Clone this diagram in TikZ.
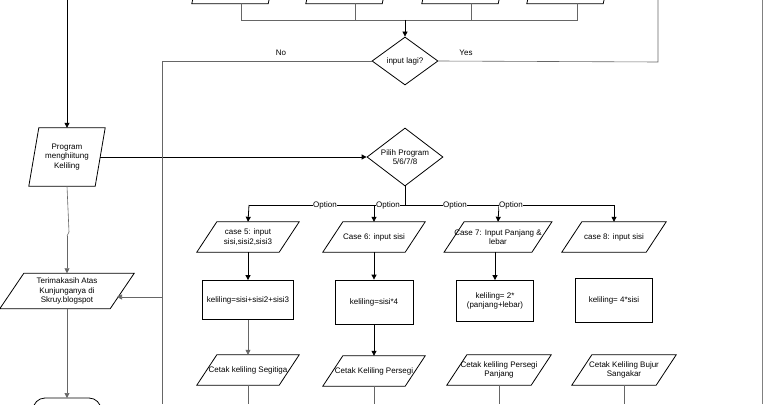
\documentclass[tikz,border=0pt]{standalone}
\usepackage{fontspec}
\setmainfont{Liberation Sans}
\usetikzlibrary{shapes.geometric,arrows.meta}
\newcommand{\mypara}[7]{% name, x, y, mid width, height, half skew, text
  \node[minimum width=#4pt, minimum height=#5pt, inner sep=0pt] (#1) at (#2,#3) {#7};
  \draw[thick] ([xshift=-#6pt]#1.south west) -- ([xshift=-#6pt]#1.south east)
     -- ([xshift=#6pt]#1.north east) -- ([xshift=#6pt]#1.north west) -- cycle;}
\begin{document}
\begin{tikzpicture}[x=1pt,y=-1pt,
  every node/.style={font=\fontsize{8}{9.5}\selectfont, align=center},
  proc/.style={draw, thick, minimum width=78pt, minimum height=42pt, inner sep=1pt},
  dec/.style={draw, thick, diamond, aspect=1.35, inner sep=1pt},
  blk/.style={thick, -{Triangle[length=5pt,width=5pt]}},
  gry/.style={draw=gray!80!black, line width=0.6pt},
  gar/.style={gry, -{Triangle[length=5pt,width=5pt]}},
  lab/.style={fill=white, inner sep=0.5pt}]
\useasboundingbox (0,0) rectangle (770,404);
% top cut-off parallelograms (only bottoms visible)
\mypara{t1}{233}{-10}{76}{27}{3}{}
\mypara{t2}{347}{-10}{76}{27}{3}{}
\mypara{t3}{463}{-10}{76}{27}{3}{}
\mypara{t4}{568}{-10}{76}{27}{3}{}
\coordinate (j1) at (241,20); \coordinate (j2) at (355,20);
\coordinate (j3) at (471,20); \coordinate (j4) at (577,20);
\coordinate (u1) at (241,3.5); \coordinate (u2) at (355,3.5);
\coordinate (u3) at (471,3.5); \coordinate (u4) at (577,3.5);
\draw[gry] (u1) -- (j1) -- (j4) -- (u4);
\draw[gry] (u2) -- (j2);
\draw[gry] (u3) -- (j3);
\node[dec, minimum width=66pt, minimum height=48pt] (lagi) at (405,61) {input lagi?};
\coordinate (jm) at (405,20);
\draw[blk] (jm) -- (lagi.north);
% Yes
\coordinate (y1) at (658,62); \coordinate (y2) at (658,0);
\draw[gry] (lagi.east) -- (y1) -- (y2);
\node at (466,53) {Yes};
% left start arrow
\mypara{prog}{67}{157}{66}{58}{5}{Program\\menghiitung\\Keliling}
\coordinate (s0) at (67,0);
\draw[blk] (s0) -- (prog.north);
\node[dec, minimum width=76pt, minimum height=58pt] (pilih) at (405,157) {Pilih Program\\5/6/7/8};
\draw[blk] (prog.east) -- (pilih.west);
% Terimakasih
\mypara{tq}{67}{291}{110}{35}{12}{Terimakasih Atas\\Kunjunganya di\\Skruy.blogspot}
\coordinate (pj1) at (69,232); \coordinate (pj2) at (67,236);
\draw[gry] (prog.south) -- (pj1) -- (pj2);
\draw[gar] (pj2) -- (tq.north);
% No
\coordinate (n1) at (162,61); \coordinate (n2) at (162,297); \coordinate (n3) at (162,404);
\coordinate (tqa) at (117,297);
\draw[gry] (lagi.west) -- (n1) -- (n3);
\draw[gar] (n2) -- (tqa);
\node at (281,53) {No};
% terminal
\draw[thick, rounded corners=12pt] (33,412) -- (33,398) -- (101,398) -- (101,412);
\coordinate (te) at (67,398);
\draw[gar] (tq.south) -- (te);
% right border
\coordinate (r1) at (762,0); \coordinate (r2) at (762,404);
\draw[gray, line width=1pt] (r1) -- (r2);
% bus
\coordinate (b0) at (405,205);
\coordinate (b5) at (249,205); \coordinate (b6) at (374,205);
\coordinate (b7) at (499,205); \coordinate (b8) at (614,205);
\draw[thick] (pilih.south) -- (b0);
\draw[thick] (b5) -- (b8);
% cases
\mypara{c5}{248}{237}{82}{30}{10}{case 5: input\\sisi,sisi2,sisi3}
\mypara{c6}{374}{237}{82}{30}{10}{Case 6: input sisi}
\mypara{c7}{498}{237}{86}{30}{10}{Case 7: Input Panjang \&\\lebar}
\mypara{c8}{614}{237}{84}{30}{10}{case 8: input sisi}
\foreach \b/\c in {b5/c5,b6/c6,b7/c7,b8/c8}{\draw[blk] (\b) -- (\c.north);}
\foreach \x in {325,388,455,511}{\node[lab] at (\x,205) {Option};}
% process
\node[proc, minimum width=91pt, minimum height=39pt] (k5) at (248,300) {keliling=sisi+sisi2+sisi3};
\node[proc, minimum height=44pt] (k6) at (374,302) {keliling=sisi*4};
\node[proc, minimum width=77pt, minimum height=41pt] (k7) at (495,301) {keliling= 2*\\(panjang+lebar)};
\node[proc, minimum width=77pt, minimum height=44pt] (k8) at (614,300) {keliling= 4*sisi};
\draw[blk] (c5.south) -- (k5.north);
\draw[blk] (c6.south) -- (k6.north);
\draw[blk] (c7.south -| k7.north) -- (k7.north);
% cetak
\mypara{p5}{248}{370}{82}{30}{10}{Cetak keliling Segitiga}
\mypara{p6}{374}{371}{82}{30}{10}{Cetak Keliling Persegi}
\mypara{p7}{499}{370}{84}{30}{10}{Cetak keliling Persegi\\Panjang}
\mypara{p8}{624}{370}{84}{30}{10}{Cetak Keliling Bujur\\Sangakar}
\draw[gar] (k5.south) -- (p5.north);
\draw[blk] (k6.south) -- (p6.north);
\foreach \p/\x in {p5/248,p6/374,p7/499,p8/624}{
  \coordinate (\p e) at (\x,404);
  \draw[gry] (\p.south) -- (\p e);}
\end{tikzpicture}
\end{document}
